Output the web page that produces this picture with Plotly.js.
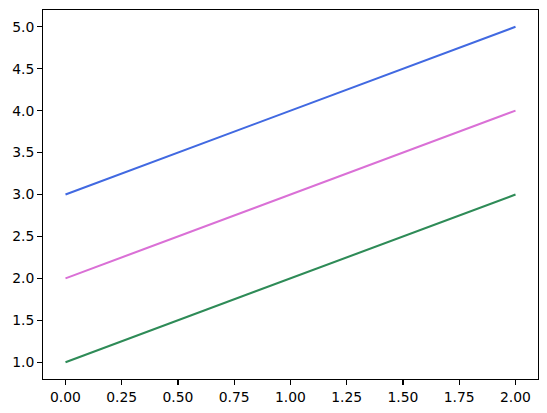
<!DOCTYPE html>
<html><head><meta charset="utf-8">
<script src="https://cdn.plot.ly/plotly-3.0.1.min.js"></script>
<style>html,body{margin:0;padding:0;background:#fff}</style>
</head><body>
<div id="chart" style="width:547px;height:413px"></div>
<script>
const xValues = [0, 1, 2];
const blueSeries = [3, 4, 5];
const orchidSeries = [2, 3, 4];
const greenSeries = [1, 2, 3];
const seriesColors = ['#4169E1', '#DA70D6', '#2E8B57'];

const traces = [blueSeries, orchidSeries, greenSeries].map((ys, i) => ({
  x: xValues, y: ys, type: 'scatter', mode: 'lines',
  line: {color: seriesColors[i], width: 2.08}, showlegend: false
}));

const axisCommon = {
  showgrid: false, zeroline: false, showline: true, mirror: true,
  linecolor: '#000', linewidth: 1.1, ticks: 'outside', ticklen: 4.9,
  tickwidth: 1.1, tickcolor: '#000',
  tickfont: {family: 'DejaVu Sans', size: 13.9, color: '#000'}
};

Plotly.newPlot('chart', traces, {
  width: 547, height: 413,
  margin: {l: 42.5, r: 8.5, t: 10, b: 33.5, pad: 0},
  paper_bgcolor: '#fff', plot_bgcolor: '#fff',
  xaxis: Object.assign({}, axisCommon, {range: [-0.1, 2.1], dtick: 0.25, tick0: 0, tickformat: '.2f'}),
  yaxis: Object.assign({}, axisCommon, {range: [0.8, 5.2], dtick: 0.5, tick0: 1, tickformat: '.1f'})
}, {displayModeBar: false, staticPlot: true});
</script>
</body></html>
